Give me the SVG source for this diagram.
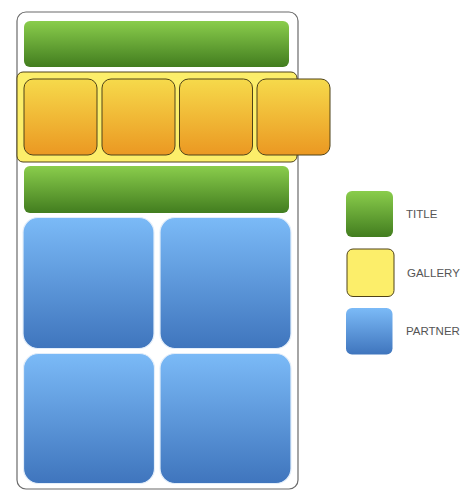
<svg xmlns="http://www.w3.org/2000/svg" width="474" height="503" viewBox="0 0 474 503">
<defs>
<linearGradient id="gGreen" x1="0" y1="0" x2="0" y2="1"><stop offset="0" stop-color="#8acd4c"/><stop offset="1" stop-color="#427d1f"/></linearGradient>
<linearGradient id="gOrange" x1="0" y1="0" x2="0" y2="1"><stop offset="0" stop-color="#f6da4b"/><stop offset="1" stop-color="#eb9822"/></linearGradient>
<linearGradient id="gBlue" x1="0" y1="0" x2="0" y2="1"><stop offset="0" stop-color="#7bbaf7"/><stop offset="1" stop-color="#3f75bd"/></linearGradient>
</defs>
<style>
.frame{fill:#fff;stroke:#6b6b6b;stroke-width:1.2}
.title{fill:url(#gGreen)}
.band{fill:#fcee6a;stroke:#4f4318;stroke-width:1}
.item{fill:url(#gOrange);stroke:#4f4318;stroke-width:1}
.partner{fill:url(#gBlue);stroke:#e3eefa;stroke-width:1.2}
.legblue{fill:url(#gBlue)}
.legtxt{font-family:"Liberation Sans",Arial,sans-serif;font-size:11.5px;fill:#555}
</style>
<g id="frame"><rect class="frame" x="17" y="12" width="281" height="477" rx="9"/></g>
<g id="title1"><rect class="title" x="24" y="21" width="265" height="46" rx="6"/></g>
<g id="gallery">
<rect class="band" x="17" y="72" width="280" height="90" rx="6"/>
</g>
<g id="gallery-item1"><rect class="item" x="24" y="79" width="73" height="76" rx="9"/></g>
<g id="gallery-item2"><rect class="item" x="102" y="79" width="73" height="76" rx="9"/></g>
<g id="gallery-item3"><rect class="item" x="179.5" y="79" width="73" height="76" rx="9"/></g>
<g id="gallery-item4"><rect class="item" x="257" y="79" width="73" height="76" rx="9"/></g>
<g id="title2"><rect class="title" x="24" y="166" width="265" height="47" rx="6"/></g>
<g id="partner1"><rect class="partner" x="23" y="217.5" width="131" height="131" rx="15"/></g>
<g id="partner2"><rect class="partner" x="160" y="217.5" width="131" height="131" rx="15"/></g>
<g id="partner3"><rect class="partner" x="23.5" y="353.5" width="131" height="130" rx="15"/></g>
<g id="partner4"><rect class="partner" x="160" y="353.5" width="131" height="130" rx="15"/></g>
<g id="legend-title">
<rect class="title" x="346" y="191" width="47" height="46" rx="6"/>
<text class="legtxt" x="406" y="218">TITLE</text>
</g>
<g id="legend-gallery">
<rect class="band" x="347" y="249" width="47" height="47.5" rx="6"/>
<text class="legtxt" x="407" y="276.5">GALLERY</text>
</g>
<g id="legend-partner">
<rect class="legblue" x="346" y="308" width="46.5" height="46.5" rx="6"/>
<text class="legtxt" x="406" y="335">PARTNER</text>
</g>
<g id="connectors"/>
</svg>
